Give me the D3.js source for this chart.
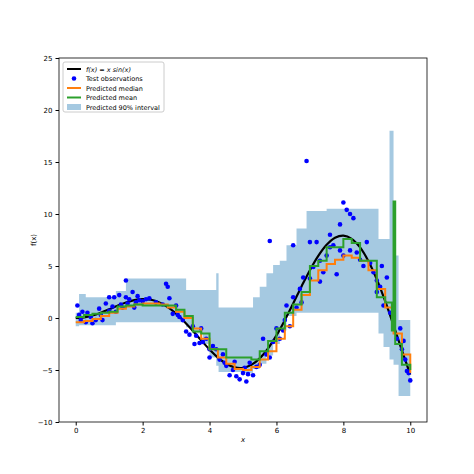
<!DOCTYPE html><html><head><meta charset="utf-8"><script src="https://cdn.jsdelivr.net/npm/d3@7"></script>
<style>body{margin:0;background:#fff}text{font-family:"DejaVu Sans",sans-serif}</style></head><body><svg id="c" width="474" height="474"></svg>
<script>
const gridX=[0,0.25,0.5,0.75,1,1.25,1.5,1.75,2,2.25,2.5,2.75,3,3.25,3.5,3.75,4,4.25,4.5,4.75,5,5.25,5.5,5.75,6,6.25,6.5,6.75,7,7.25,7.5,7.75,8,8.25,8.5,8.75,9,9.25,9.5,9.75,10];
const trueF=[0,0.062,0.24,0.511,0.841,1.186,1.496,1.722,1.819,1.751,1.496,1.05,0.423,-0.352,-1.228,-2.144,-3.027,-3.804,-4.399,-4.747,-4.795,-4.509,-3.88,-2.923,-1.676,-0.207,1.398,3.038,4.599,5.967,7.035,7.708,7.915,7.613,6.787,5.466,3.709,1.612,-0.714,-3.115,-5.44];
const medX=[0,0.25,0.5,0.75,1,1.25,1.5,1.75,2,2.25,2.5,2.75,3,3.25,3.5,3.75,4,4.25,4.5,4.75,5,5.25,5.5,5.75,6,6.25,6.5,6.75,7,7.25,7.5,7.75,8,8.25,8.5,8.75,9,9.25,9.5,9.75,10];
const median=[-0.4,-0.3,-0.1,0.2,0.5,0.9,1.1,1.3,1.4,1.4,1.3,1.0,0.6,0,-1.0,-2.0,-3.0,-3.8,-4.4,-4.9,-5.0,-4.7,-4.0,-3.2,-2.0,-0.8,0.8,2.2,3.6,4.6,5.2,5.6,6.0,5.8,5.5,4.6,2.8,1.0,-1.5,-3.5,-5.3,-5.3];
const meanX=[0,0.25,0.5,0.75,1,1.25,1.5,1.75,2,2.6,3,3.25,3.5,3.75,4,4.3,4.5,5.25,5.5,5.75,6,6.25,6.5,6.75,7,7.25,7.5,7.75,8,8.25,8.5,8.75,9,9.25,9.45,9.5,9.55,9.75,10];
const mean=[0.1,0.3,0.4,0.5,0.6,1.1,1.2,1.3,1.2,1.2,0.8,0.2,-1.3,-1.5,-3.0,-3.0,-3.8,-4.0,-3.2,-2.2,-1.0,0.5,1.3,2.5,5.0,5.5,6.8,6.8,7.6,7.2,5.5,5.5,2.0,1.5,-1.2,11.2,-2.5,-4.5,-5.0];
const bandX=[0,0.1,0.3,1.2,1.5,3.3,3.5,3.8,4.0,4.2,4.27,5.0,5.3,5.5,5.7,5.9,6.1,6.3,6.6,6.9,7.5,9.05,9.2,9.38,9.5,9.65,10.0];
const upper=[0.5,2.3,2.0,2.6,3.8,2.7,2.7,2.7,2.7,4.3,1.0,1.0,2.0,3.0,4.3,5.1,5.5,7.0,8.6,10.3,10.5,7.6,7.6,18,6.0,-0.2,-0.2];
const lower=[-0.8,-0.7,-0.7,-0.4,-0.4,-0.9,-1.5,-2.5,-3.8,-4.6,-5.2,-5.3,-4.9,-4.4,-3.6,-2.5,-1.2,0.2,0.5,0.5,0.5,-1.5,-2.8,-4,-4.5,-7.5,-7.5];
const obsX=[0.05,0.1,0.15,0.2,0.3,0.35,0.45,0.5,0.6,0.7,0.75,0.8,0.9,1.0,1.0,1.1,1.15,1.2,1.3,1.35,1.4,1.5,1.5,1.55,1.6,1.7,1.75,1.8,1.85,1.9,2.0,2.1,2.2,2.4,2.6,2.7,2.75,2.8,2.9,3.0,3.05,3.1,3.2,3.3,3.4,3.5,3.55,3.6,3.7,3.75,3.8,3.9,4.0,4.0,4.1,4.2,4.3,4.4,4.45,4.5,4.6,4.7,4.75,4.8,4.9,5.0,5.05,5.1,5.15,5.2,5.3,5.4,5.5,5.6,5.7,5.8,5.8,5.9,6.0,6.1,6.2,6.25,6.3,6.4,6.5,6.5,6.6,6.7,6.75,6.8,6.9,7.0,7.0,7.1,7.2,7.3,7.3,7.4,7.5,7.6,7.6,7.7,7.8,7.9,7.9,8.0,8.0,8.1,8.2,8.2,8.3,8.4,8.5,8.6,8.7,8.8,8.9,9.0,9.0,9.1,9.15,9.2,9.3,9.4,9.5,9.6,9.7,9.75,9.8,9.85,9.9,9.95,10.0];
const obsY=[1.2,0.3,-0.2,0.6,-0.4,0.5,0.1,-0.5,-0.2,0.9,0.3,-0.2,1.4,2.0,0.7,1.1,2.0,0.6,2.2,1.3,1.0,3.6,2.0,1.4,1.8,2.5,1.0,1.5,2.1,1.7,1.6,1.8,1.9,1.5,1.3,3.3,3.0,1.9,0.4,1.2,0.3,0.1,-0.2,-1.3,-1.6,-0.8,-2.5,-1.7,-2.4,-1.0,-2.3,-2.0,-3.0,-3.8,-2.7,-3.0,-4.0,-3.5,-4.3,-4.6,-5.5,-5.0,-4.2,-5.6,-5.9,-5.3,-4.8,-6.1,-5.4,-4.3,-5.5,-4.7,-4.5,-2.0,-3.5,-3.8,7.4,-2.3,-1.0,-2.0,-1.2,-0.2,1.2,-0.8,2.0,7.0,1.0,2.8,1.5,3.9,15.1,3.8,7.3,4.9,7.3,5.5,3.5,4.4,6.0,8.0,6.8,7.0,4.2,6.5,9.0,6.0,11.1,10.4,6.5,10.0,9.6,6.3,5.6,5.0,7.3,5.3,4.4,3.6,2.5,3.0,5.0,1.2,3.9,0.5,-1.0,-2.0,-1.0,-3.0,-2.2,-4.0,-5.1,-5.3,-6.0,-6.5,-7.2,-5.0,-5.3];

const svg=d3.select("#c");
const L=59,R=427,T=58,B=422;
const x=d3.scaleLinear().domain([-0.5,10.5]).range([L,R]);
const y=d3.scaleLinear().domain([-10,25]).range([B,T]);
const g=svg.append("g");
g.append("path").datum(bandX.map((v,i)=>[v,upper[i],lower[i]])).attr("fill","#1f77b4").attr("fill-opacity",0.4)
 .attr("d",d3.area().curve(d3.curveStepAfter).x(d=>x(d[0])).y0(d=>y(d[2])).y1(d=>y(d[1])));
g.append("path").datum(gridX.map((v,i)=>[v,trueF[i]])).attr("fill","none").attr("stroke","#000").attr("stroke-width",2.2)
 .attr("d",d3.line().curve(d3.curveCatmullRom).x(d=>x(d[0])).y(d=>y(d[1])));
g.selectAll("circle").data(obsX.map((v,i)=>[v,obsY[i]])).join("circle").attr("cx",d=>x(d[0])).attr("cy",d=>y(d[1])).attr("r",2.3).attr("fill","#0000ff");
g.append("path").datum(medX.map((v,i)=>[v,median[i]])).attr("fill","none").attr("stroke","#ff7f0e").attr("stroke-width",2)
 .attr("d",d3.line().curve(d3.curveStepAfter).x(d=>x(d[0])).y(d=>y(d[1])));
g.append("path").datum(meanX.map((v,i)=>[v,mean[i]])).attr("fill","none").attr("stroke","#2ca02c").attr("stroke-width",2)
 .attr("d",d3.line().curve(d3.curveStepAfter).x(d=>x(d[0])).y(d=>y(d[1])));
svg.append("rect").attr("x",L).attr("y",T).attr("width",R-L).attr("height",B-T).attr("fill","none").attr("stroke","#000").attr("stroke-width",0.8);
const xa=svg.append("g").attr("transform",`translate(0,${B})`).call(d3.axisBottom(x).tickValues([0,2,4,6,8,10]).tickSizeOuter(0).tickSize(3.5));
const ya=svg.append("g").attr("transform",`translate(${L},0)`).call(d3.axisLeft(y).tickValues([-10,-5,0,5,10,15,20,25]).tickSizeOuter(0).tickSize(3.5));
[xa,ya].forEach(a=>{a.select(".domain").remove();a.selectAll("text").attr("font-size",7).attr("font-family","DejaVu Sans");});
svg.append("text").attr("x",(L+R)/2).attr("y",442).attr("text-anchor","middle").attr("font-size",7).attr("font-style","italic").text("x");
svg.append("text").attr("transform","translate(36,240) rotate(-90)").attr("text-anchor","middle").attr("font-size",7).text("f(x)");
// legend
const lg=svg.append("g").attr("transform","translate(63,62)");
lg.append("rect").attr("width",101).attr("height",50).attr("fill","#fff").attr("fill-opacity",0.8).attr("stroke","#ccc").attr("rx",2);
const items=[["line","#000","f(x) = x sin(x)"],["dot","#0000ff","Test observations"],["line","#ff7f0e","Predicted median"],["line","#2ca02c","Predicted mean"],["rect","#1f77b4","Predicted 90% interval"]];
items.forEach((it,i)=>{const yy=7+i*9.5;
 if(it[0]=="line")lg.append("line").attr("x1",4).attr("x2",18).attr("y1",yy).attr("y2",yy).attr("stroke",it[1]).attr("stroke-width",2);
 else if(it[0]=="dot")lg.append("circle").attr("cx",11).attr("cy",yy).attr("r",2.3).attr("fill",it[1]);
 else lg.append("rect").attr("x",4).attr("y",yy-3).attr("width",14).attr("height",6).attr("fill",it[1]).attr("fill-opacity",0.4);
 lg.append("text").attr("x",23).attr("y",yy+2.5).attr("font-size",6.5).attr("font-style",i==0?"italic":"normal").text(it[2]);});
</script></body></html>
